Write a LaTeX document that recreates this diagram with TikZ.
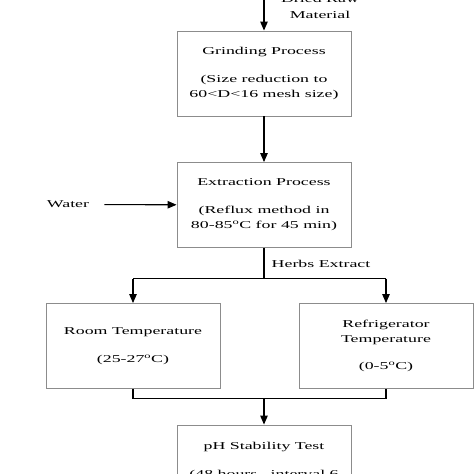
\documentclass[tikz,border=0pt]{standalone}
\usepackage{fontspec}
\setmainfont{Liberation Serif}[FakeStretch=1.7]
\usetikzlibrary{arrows.meta}
\begin{document}
\begin{tikzpicture}[x=1pt,y=-1pt]
				\tikzstyle{Box} = [rectangle, draw=black!45, line width=0.9pt, minimum width=174, minimum height=85, inner sep=0pt, align=center, font=\fontsize{10.5}{15.5}\selectfont]
				\tikzstyle{Label} = [inner sep=0pt, align=center, font=\fontsize{10.5}{15.5}\selectfont]
				\tikzstyle{Arrow} = [line width=1.1pt, -{Triangle[length=9pt,width=7.5pt]}]
				\tikzstyle{Line} = [line width=1.1pt]
				\useasboundingbox (0,0) rectangle (474,474);
				\coordinate (in) at (264,-2);
				\node (raw) at (320,7) [Label] {Dried Raw\\Material};
				\node (grind) at (264,73.5) [Box, fill=white] {Grinding Process\\[12pt](Size reduction to\\60<D<16 mesh size)};
				\node (extract) at (264,205) [Box, fill=white] {Extraction Process\\[12pt](Reflux method in\\80-85\textsuperscript{o}C for 45 min)};
				\node (water) at (68,204.5) [Label] {Water};
				\coordinate (split) at (264,278.5);
				\coordinate (splitL) at (133,278.5);
				\coordinate (splitR) at (386,278.5);
				\node (herbs) at (321,263.5) [Label] {Herbs Extract};
				\node (room) at (133,346) [Box, fill=white] {Room Temperature\\[12pt](25-27\textsuperscript{o}C)};
				\node (fridge) at (386,346) [Box, fill=white] {Refrigerator\\[-1pt]Temperature\\[12pt](0-5\textsuperscript{o}C)};
				\coordinate (joinL) at (133,398.5);
				\coordinate (joinR) at (386,398.5);
				\coordinate (join) at (264,398.5);
				\node (ph) at (264,467.5) [Box, fill=white] {pH Stability Test\\[12pt](48 hours , interval 6\\\mbox{}};
				\draw[Arrow] (in) to (grind);
				\draw[Arrow] (grind) to (extract);
				\draw[Arrow, shorten <=15pt] (water) to (extract);
				\draw[Line] (extract) to (split);
				\draw[Line] (splitL) to (splitR);
				\draw[Arrow] (splitL) to (room);
				\draw[Arrow] (splitR) to (fridge);
				\draw[Line] (room) to (joinL) to (joinR) to (fridge);
				\draw[Arrow] (join) to (ph);
			\end{tikzpicture}
\end{document}
